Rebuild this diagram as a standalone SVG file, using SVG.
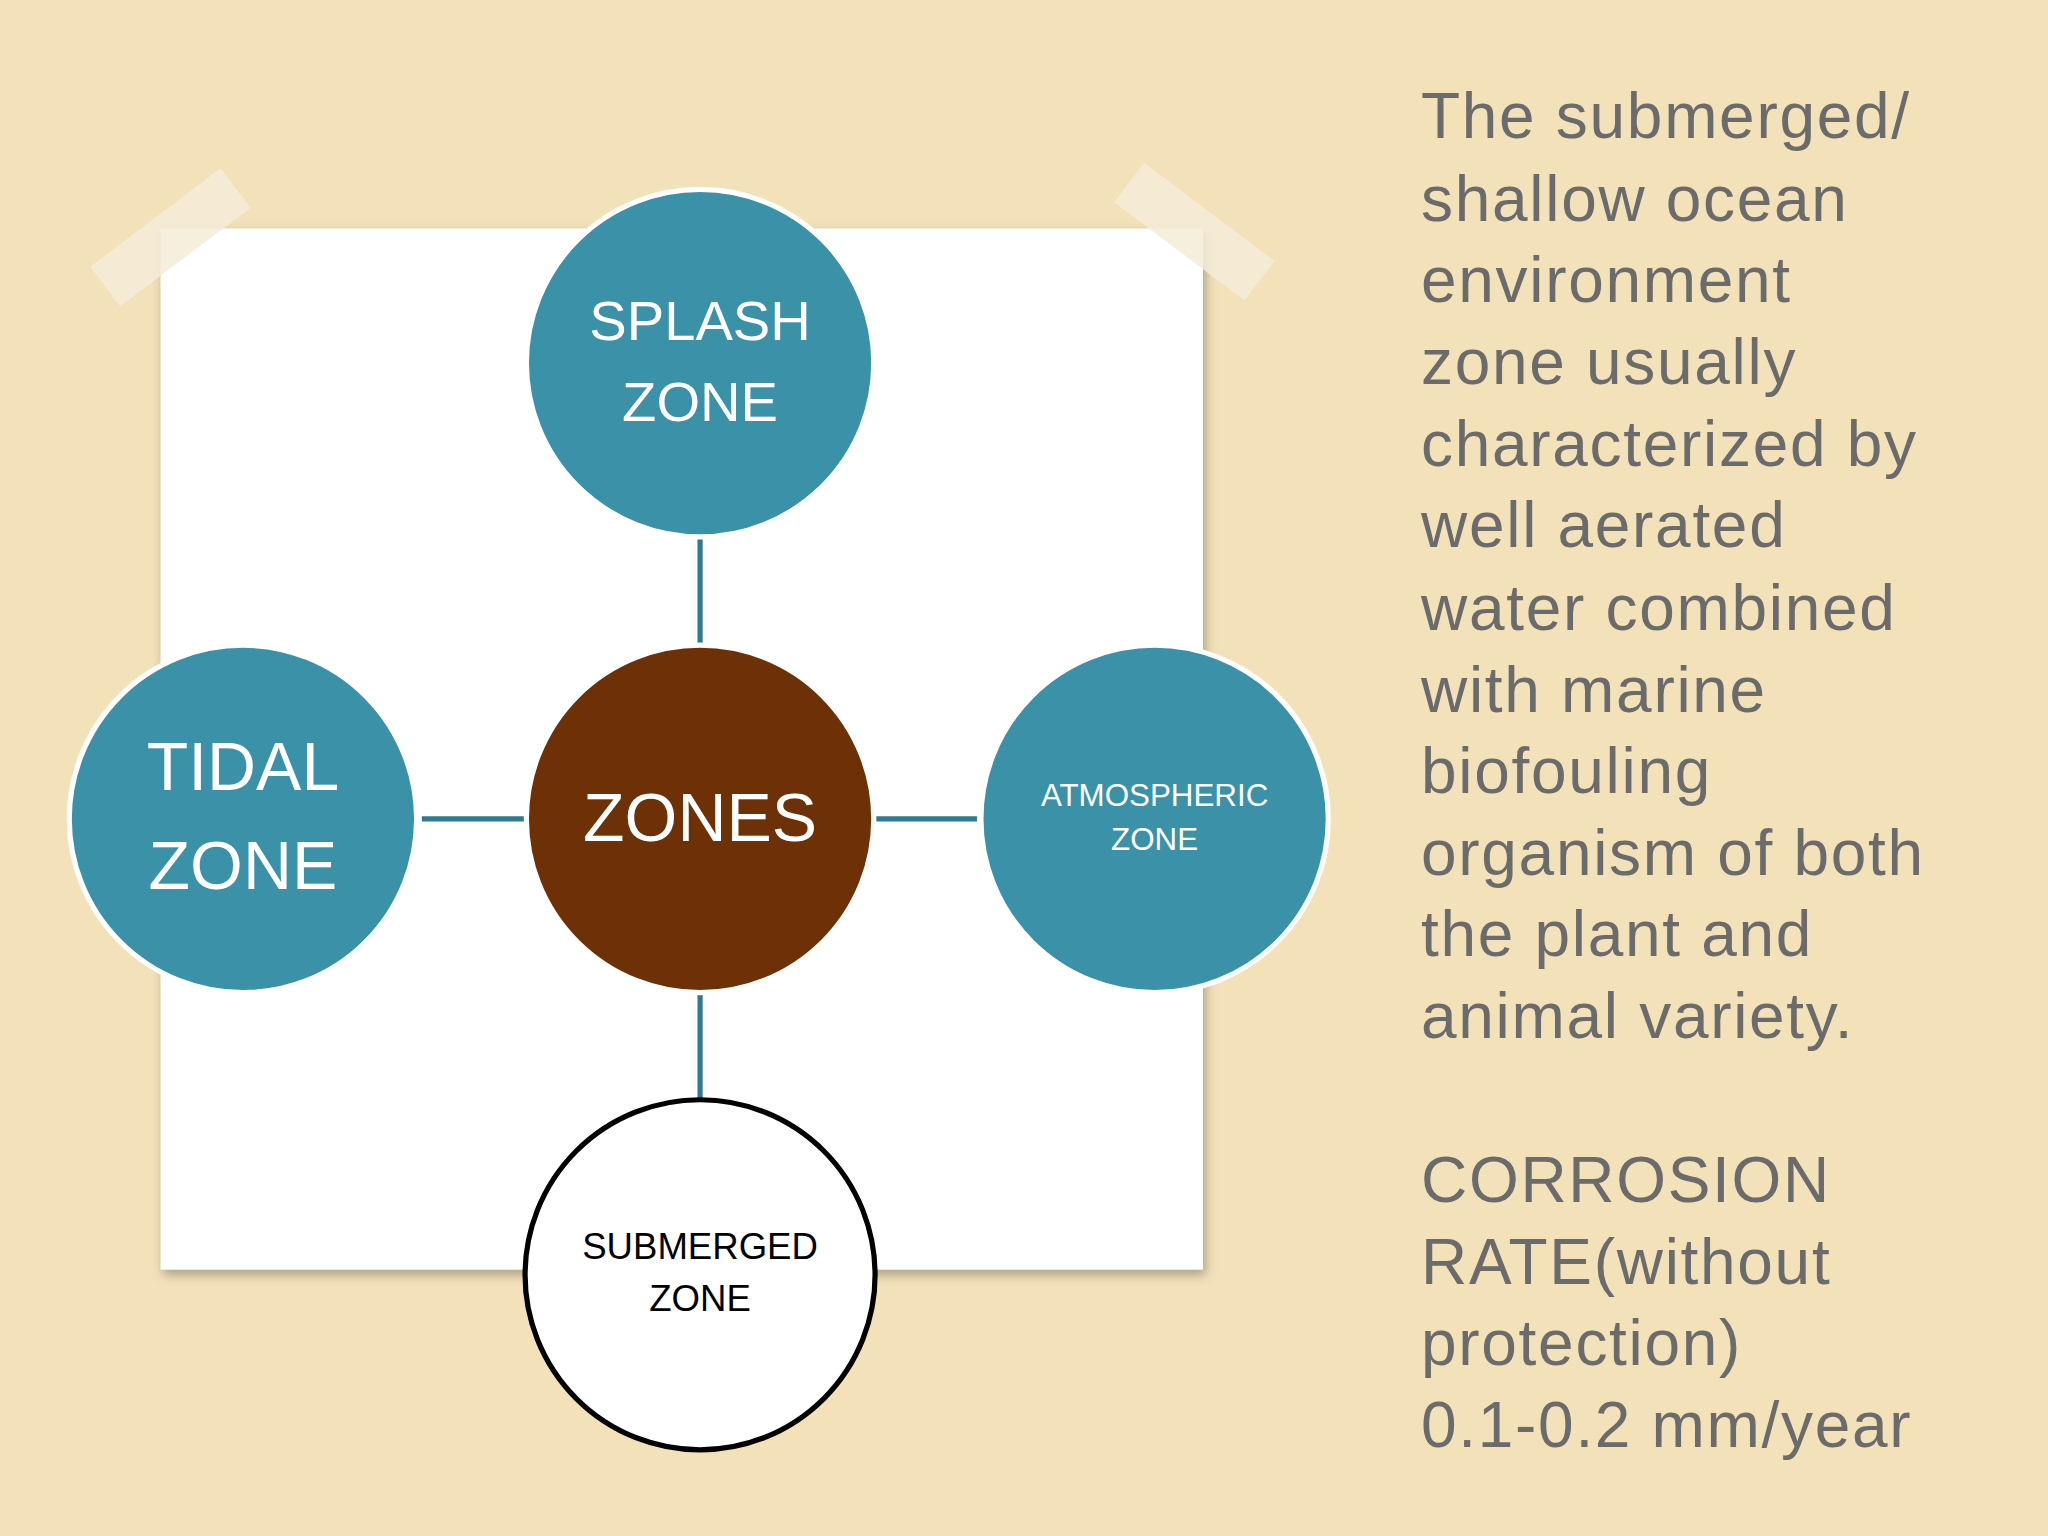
<svg xmlns="http://www.w3.org/2000/svg" width="2048" height="1536" viewBox="0 0 2048 1536">
<style>
.c{fill:#3a91a8;stroke:#fff;stroke-width:4}
.t{font-family:"Liberation Sans",Arial,sans-serif;fill:#fff;text-anchor:middle}
.side{font-family:"Liberation Sans",Arial,sans-serif;fill:#6b6b6b;font-size:49px;letter-spacing:1.3px}
.ln{stroke:#2f7a90;stroke-width:4}
</style>
<defs>
<filter id="sh" x="-5%" y="-5%" width="110%" height="110%"><feDropShadow dx="2" dy="4" stdDeviation="4" flood-color="#000" flood-opacity="0.3"/></filter>
</defs>
<rect width="2048" height="1536" fill="#f3e1ba"/>
<g transform="scale(1.30612)">
<rect x="123" y="175" width="798" height="797" fill="#fff" filter="url(#sh)"/>
<rect x="68" y="163" width="125" height="38" fill="#f4ecd8" opacity="0.85" transform="rotate(-37 130 182)"/>
<rect x="852" y="158" width="125" height="38" fill="#f4ecd8" opacity="0.85" transform="rotate(37 914 177)"/>
<g id="connectors">
<line class="ln" x1="536" y1="412" x2="536" y2="494"/>
<line class="ln" x1="536" y1="760" x2="536" y2="842"/>
<line class="ln" x1="323" y1="627" x2="402" y2="627"/>
<line class="ln" x1="670" y1="627" x2="748" y2="627"/>
</g>
<g id="splash"><circle class="c" cx="536" cy="278" r="133"/>
<text class="t" x="536" y="260" font-size="43">SPLASH</text><text class="t" x="536" y="322" font-size="43">ZONE</text></g>
<g id="zones"><circle cx="536" cy="627" r="133" fill="#6e3007" stroke="#fff" stroke-width="4"/>
<text class="t" x="536" y="644" font-size="52">ZONES</text></g>
<g id="tidal"><circle class="c" cx="186" cy="627" r="133"/>
<text class="t" x="186" y="605" font-size="52">TIDAL</text><text class="t" x="186" y="681" font-size="52">ZONE</text></g>
<g id="atmos"><circle class="c" cx="884" cy="627" r="133"/>
<text class="t" x="884" y="617" font-size="24">ATMOSPHERIC</text><text class="t" x="884" y="651" font-size="24">ZONE</text></g>
<g id="submerged"><circle cx="536" cy="976" r="134" fill="#fff" stroke="#000" stroke-width="4"/>
<text class="t" x="536" y="964" font-size="28" style="fill:#000">SUBMERGED</text><text class="t" x="536" y="1004" font-size="28" style="fill:#000">ZONE</text></g>
<g id="desc" class="side">
<text x="1088" y="106">The submerged/</text>
<text x="1088" y="169">shallow ocean</text>
<text x="1088" y="231">environment</text>
<text x="1088" y="294">zone usually</text>
<text x="1088" y="357">characterized by</text>
<text x="1088" y="419">well aerated</text>
<text x="1088" y="482">water combined</text>
<text x="1088" y="545">with marine</text>
<text x="1088" y="607">biofouling</text>
<text x="1088" y="670">organism of both</text>
<text x="1088" y="732">the plant and</text>
<text x="1088" y="795">animal variety.</text>
<text x="1088" y="920">CORROSION</text>
<text x="1088" y="983">RATE(without</text>
<text x="1088" y="1045">protection)</text>
<text x="1088" y="1108">0.1-0.2 mm/year</text>
</g>
</g>
</svg>
